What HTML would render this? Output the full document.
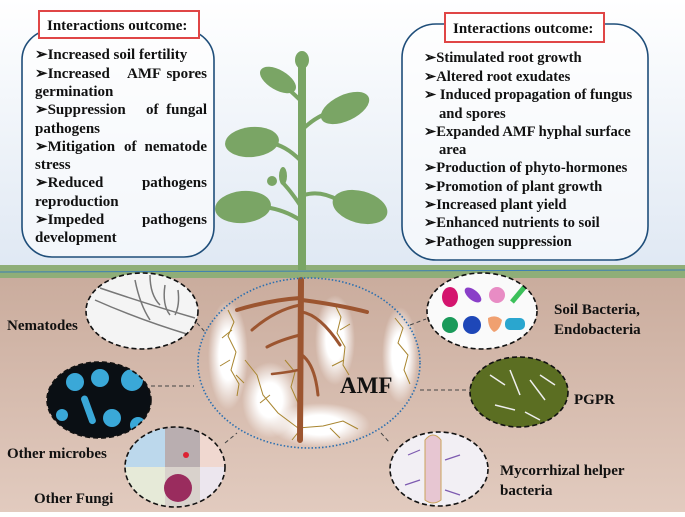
<!DOCTYPE html>
<html><head><meta charset="utf-8"><style>
html,body{margin:0;padding:0}
body{width:685px;height:512px;overflow:hidden;font-family:"Liberation Serif",serif}
svg text{font-family:"Liberation Serif",serif;font-weight:bold;fill:#111}
</style></head><body>
<svg width="685" height="512" viewBox="0 0 685 512" xmlns="http://www.w3.org/2000/svg">
<defs>
<linearGradient id="sky" x1="0" y1="0" x2="0" y2="1">
<stop offset="0" stop-color="#ffffff"/><stop offset="1" stop-color="#dfe8f3"/></linearGradient>
<linearGradient id="soil" x1="0" y1="0" x2="0" y2="1">
<stop offset="0" stop-color="#c9ab9c"/><stop offset="1" stop-color="#e2cbbf"/></linearGradient>
<radialGradient id="glow"><stop offset="0.45" stop-color="#fff"/><stop offset="1" stop-color="#fff" stop-opacity="0"/></radialGradient>
<clipPath id="c1"><ellipse cx="142" cy="311" rx="56" ry="38"/></clipPath>
<clipPath id="c2"><ellipse cx="482" cy="311" rx="55" ry="38"/></clipPath>
<clipPath id="c3"><ellipse cx="99" cy="400" rx="52" ry="38"/></clipPath>
<clipPath id="c4"><ellipse cx="519" cy="392" rx="49" ry="35"/></clipPath>
<clipPath id="c5"><ellipse cx="175" cy="467" rx="50" ry="40"/></clipPath>
<clipPath id="c6"><ellipse cx="439" cy="469" rx="49" ry="37"/></clipPath>
</defs>
<rect x="0" y="0" width="685" height="270" fill="url(#sky)"/>
<rect x="0" y="268" width="685" height="244" fill="url(#soil)"/>
<rect x="0" y="265" width="685" height="13" fill="#8fae78"/>
<line x1="0" y1="272" x2="685" y2="270" stroke="#3b7fb5" stroke-width="1"/>

<!-- plant -->
<g fill="#7aa565" stroke="none">
<rect x="298" y="65" width="8" height="205"/>
<ellipse cx="302" cy="60" rx="7" ry="9"/>
<ellipse cx="278" cy="80" rx="20" ry="10" transform="rotate(30 278 80)"/>
<ellipse cx="345" cy="108" rx="26" ry="13" transform="rotate(-25 345 108)"/>
<ellipse cx="252" cy="142" rx="27" ry="15" transform="rotate(-5 252 142)"/>
<ellipse cx="243" cy="207" rx="28" ry="16" transform="rotate(-5 243 207)"/>
<ellipse cx="360" cy="207" rx="28" ry="16" transform="rotate(15 360 207)"/>
<ellipse cx="283" cy="176" rx="4" ry="9"/>
<ellipse cx="272" cy="181" rx="5" ry="5"/>
</g>
<g stroke="#7aa565" stroke-width="4" fill="none">
<path d="M300 100 Q290 90 282 84"/><path d="M304 128 Q318 115 332 112"/>
<path d="M300 160 Q285 145 270 143"/><path d="M300 220 Q285 210 265 207"/>
<path d="M304 195 Q320 190 338 200"/><path d="M300 205 Q290 190 282 182"/>
</g>

<!-- left box -->
<rect x="22" y="30" width="192" height="227" rx="30" fill="#fff" fill-opacity="0.6" stroke="#1f4e7a" stroke-width="1.6"/>
<rect x="39" y="11" width="160" height="27" fill="#fff" stroke="#e04646" stroke-width="2"/>
<text x="47" y="30" font-size="15">Interactions outcome:</text>
<g font-size="15">
<text x="35" y="59">➢Increased soil fertility</text>
<text x="35" y="78">➢Increased</text><text x="127" y="78">AMF</text><text x="207" y="78" text-anchor="end">spores</text>
<text x="35" y="96">germination</text>
<text x="35" y="114">➢Suppression</text><text x="146" y="114">of</text><text x="207" y="114" text-anchor="end">fungal</text>
<text x="35" y="133">pathogens</text>
<text x="35" y="151">➢Mitigation</text><text x="124" y="151">of</text><text x="207" y="151" text-anchor="end">nematode</text>
<text x="35" y="169">stress</text>
<text x="35" y="187">➢Reduced</text><text x="207" y="187" text-anchor="end">pathogens</text>
<text x="35" y="206">reproduction</text>
<text x="35" y="224">➢Impeded</text><text x="207" y="224" text-anchor="end">pathogens</text>
<text x="35" y="242">development</text>
</g>

<!-- right box -->
<rect x="402" y="24" width="246" height="236" rx="34" fill="#fff" fill-opacity="0.6" stroke="#1f4e7a" stroke-width="1.6"/>
<rect x="445" y="13" width="159" height="29" fill="#fff" stroke="#e04646" stroke-width="2"/>
<text x="453" y="33" font-size="15">Interactions outcome:</text>
<g font-size="14.6">
<text x="424" y="62">➢Stimulated root growth</text>
<text x="424" y="81">➢Altered root exudates</text>
<text x="424" y="99">➢ Induced propagation of fungus</text>
<text x="439" y="118">and spores</text>
<text x="424" y="136">➢Expanded AMF hyphal surface</text>
<text x="439" y="154">area</text>
<text x="424" y="172">➢Production of phyto-hormones</text>
<text x="424" y="191">➢Promotion of  plant growth</text>
<text x="424" y="209">➢Increased plant yield</text>
<text x="424" y="227">➢Enhanced nutrients to soil</text>
<text x="424" y="246">➢Pathogen suppression</text>
</g>

<!-- AMF area -->
<ellipse cx="228" cy="355" rx="20" ry="55" fill="url(#glow)"/>
<ellipse cx="335" cy="340" rx="20" ry="45" fill="url(#glow)"/>
<ellipse cx="400" cy="355" rx="18" ry="48" fill="url(#glow)"/>
<ellipse cx="270" cy="400" rx="28" ry="38" fill="url(#glow)"/>
<ellipse cx="320" cy="425" rx="50" ry="22" fill="url(#glow)"/>
<g stroke="#a8852f" stroke-width="1" fill="none">
<path d="M228 310 l6 12 -6 14 8 16 -5 18 8 14 -2 12"/><path d="M232 330 l-10 8 M230 360 l-10 6 M236 375 l8 8"/>
<path d="M335 305 l6 12 -4 16 8 14 -2 18 6 10"/><path d="M340 330 l10 -6 M344 360 l-12 6"/>
<path d="M245 360 l12 15 6 20 15 18 20 15 25 -2 20 -5 15 8"/><path d="M395 318 l8 10 -5 15 10 12 -4 15 6 14"/>
<path d="M285 360 l10 12 -4 15 8 18"/><path d="M270 395 l-10 8 M300 430 l-8 10 M330 428 l10 10"/>
</g>
<g stroke="#9c5530" fill="none" stroke-linecap="round">
<path d="M301 280 L300 440" stroke-width="6"/>
<path d="M300 298 Q270 300 237 310" stroke-width="4"/>
<path d="M302 300 Q340 305 367 312" stroke-width="4"/>
<path d="M300 305 Q275 310 252 330" stroke-width="3"/>
<path d="M302 312 Q320 315 340 345" stroke-width="3"/>
<path d="M300 335 Q280 340 267 347" stroke-width="3"/>
<path d="M302 355 Q315 365 318 395" stroke-width="3"/>
<path d="M298 370 Q290 372 272 374" stroke-width="2.5"/>
</g>
<ellipse cx="309" cy="363" rx="111" ry="85" fill="none" stroke="#2a6fb0" stroke-width="1.6" stroke-dasharray="1.5 2"/>
<text x="340" y="393" font-size="23">AMF</text>

<!-- connectors -->
<g stroke="#444" stroke-dasharray="4 3" stroke-width="1">
<line x1="197" y1="323" x2="205" y2="332"/>
<line x1="151" y1="386" x2="194" y2="386"/>
<line x1="225" y1="443" x2="237" y2="433"/>
<line x1="410" y1="325" x2="426" y2="319"/>
<line x1="420" y1="390" x2="470" y2="390"/>
<line x1="381" y1="433" x2="390" y2="443"/>
</g>

<!-- circle backgrounds -->
<ellipse cx="142" cy="311" rx="56" ry="38" fill="#f4f4f4"/>
<ellipse cx="482" cy="311" rx="55" ry="38" fill="#fafafa"/>
<ellipse cx="99" cy="400" rx="52" ry="38" fill="#0a0f14"/>
<ellipse cx="519" cy="392" rx="49" ry="35" fill="#5b6e22"/>
<ellipse cx="175" cy="467" rx="50" ry="40" fill="#d9d2cc"/>
<ellipse cx="439" cy="469" rx="49" ry="37" fill="#f2eff4"/>
<!-- circle contents -->
<g clip-path="url(#c1)" stroke="#777" fill="none" stroke-width="1.5">
<path d="M95 300 Q140 320 190 335"/><path d="M100 288 Q150 305 195 318"/>
<path d="M135 280 q5 25 15 40 M150 275 q0 20 10 30 M165 285 q-3 20 5 30 M178 290 q2 15 -3 25"/>
</g>
<g clip-path="url(#c2)">
<ellipse cx="450" cy="297" rx="8" ry="10" fill="#d4146e"/>
<ellipse cx="473" cy="295" rx="10" ry="5" fill="#8a3fc8" transform="rotate(40 473 295)"/>
<circle cx="497" cy="295" r="8" fill="#e88cc4"/>
<rect x="508" y="292" width="20" height="5" fill="#3cc05a" transform="rotate(-50 518 294)"/>
<circle cx="450" cy="325" r="8" fill="#1a9a5a"/>
<circle cx="472" cy="325" r="9" fill="#1e47b8"/>
<path d="M488 318 q8 -4 14 2 q-2 10 -8 12 q-6 -4 -6 -14z" fill="#f0a070"/>
<rect x="505" y="318" width="20" height="12" rx="5" fill="#2aa6cf"/>
</g>
<g clip-path="url(#c3)" fill="#3aa8d8">
<circle cx="75" cy="382" r="9"/><circle cx="100" cy="378" r="9"/><circle cx="132" cy="380" r="11"/>
<rect x="85" y="395" width="7" height="30" rx="3.5" transform="rotate(-20 88 410)"/>
<circle cx="112" cy="418" r="9"/><circle cx="138" cy="425" r="8"/><circle cx="62" cy="415" r="6"/>
</g>
<g clip-path="url(#c4)" stroke="#eee" stroke-width="1.5">
<line x1="490" y1="375" x2="505" y2="385"/><line x1="510" y1="370" x2="520" y2="395"/>
<line x1="530" y1="380" x2="545" y2="400"/><line x1="495" y1="405" x2="515" y2="410"/>
<line x1="525" y1="412" x2="540" y2="420"/><line x1="540" y1="375" x2="555" y2="385"/>
</g>
<g clip-path="url(#c5)">
<rect x="125" y="427" width="40" height="40" fill="#bcd8ec"/>
<rect x="165" y="427" width="35" height="40" fill="#b9aeb0"/>
<rect x="200" y="427" width="30" height="40" fill="#f0d8d0"/>
<rect x="125" y="467" width="40" height="40" fill="#e6ead8"/>
<rect x="200" y="467" width="30" height="40" fill="#ece6ee"/>
<circle cx="178" cy="488" r="14" fill="#9a2c5e"/>
<circle cx="186" cy="455" r="3" fill="#d23"/>
</g>
<g clip-path="url(#c6)">
<path d="M425 440 q8 -10 16 0 v60 q-8 6 -16 0z" fill="#e7c6d2" stroke="#caa35a"/>
<g stroke="#7d5ab0" stroke-width="1.2"><line x1="420" y1="450" x2="408" y2="455"/><line x1="445" y1="460" x2="460" y2="455"/><line x1="420" y1="480" x2="405" y2="485"/><line x1="445" y1="490" x2="460" y2="495"/></g>
</g>
<g stroke="#111" stroke-width="1.6" stroke-dasharray="5 3" fill="none">
<ellipse cx="142" cy="311" rx="56" ry="38"/>
<ellipse cx="482" cy="311" rx="55" ry="38"/>
<ellipse cx="99" cy="400" rx="52" ry="38"/>
<ellipse cx="519" cy="392" rx="49" ry="35"/>
<ellipse cx="175" cy="467" rx="50" ry="40"/>
<ellipse cx="439" cy="469" rx="49" ry="37"/>
</g>

<!-- labels -->
<g font-size="15">
<text x="7" y="330">Nematodes</text>
<text x="554" y="314">Soil Bacteria,</text>
<text x="554" y="334">Endobacteria</text>
<text x="7" y="458">Other microbes</text>
<text x="34" y="503">Other Fungi</text>
<text x="574" y="404">PGPR</text>
<text x="500" y="475">Mycorrhizal helper</text>
<text x="500" y="495">bacteria</text>
</g>
</svg>
</body></html>
